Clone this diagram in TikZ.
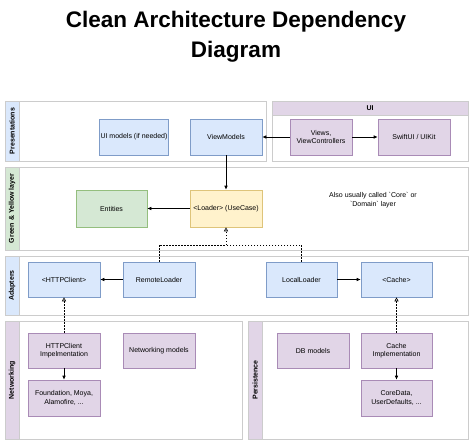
\documentclass[tikz,border=0pt]{standalone}
\usepackage{fontspec}
\setmainfont{Liberation Sans}
\usetikzlibrary{arrows.meta,positioning}

\definecolor{bluefill}{HTML}{DAE8FC}
\definecolor{bluedraw}{HTML}{7F9CC8}
\definecolor{greenfill}{HTML}{D5E8D4}
\definecolor{greendraw}{HTML}{94BE7E}
\definecolor{yellowfill}{HTML}{FFF2CC}
\definecolor{yellowdraw}{HTML}{DEC47A}
\definecolor{purplefill}{HTML}{E1D5E7}
\definecolor{purpledraw}{HTML}{A98BB6}
\definecolor{lanedraw}{HTML}{CCCCCC}

\tikzset{
 box/.style={draw, line width=0.6pt, minimum width=72pt, minimum height=36pt, inner sep=1pt,
  align=center, font=\fontsize{7}{8.5}\selectfont},
 bluebox/.style={box, fill=bluefill, draw=bluedraw},
 greenbox/.style={box, fill=greenfill, draw=greendraw},
 yellowbox/.style={box, fill=yellowfill, draw=yellowdraw},
 purplebox/.style={box, fill=purplefill, draw=purpledraw},
 lane/.style={draw=lanedraw, line width=0.8pt},
 lanetitle/.style={rotate=90, font=\bfseries\fontsize{7}{8.5}\selectfont},
 uses/.style={-{Latex[length=4pt,width=3.5pt]}, line width=0.6pt},
 dep/.style={-{Triangle[open,length=4pt,width=4pt]}, line width=0.6pt, dash pattern=on 1.5pt off 1.5pt},
 depline/.style={line width=0.6pt, dash pattern=on 1.5pt off 1.5pt}
}

\begin{document}
\begin{tikzpicture}[x=1pt,y=-1pt]
 \useasboundingbox (0,0) rectangle (474,445);

 % title
 \node (title) at (236,37) [align=center, font=\bfseries\fontsize{22.5}{30}\selectfont] {Clean Architecture Dependency\\Diagram};

 % lanes
 \draw[lane] (5,101) rectangle (266,161);
 \draw[lane, fill=bluefill] (5,101) rectangle (19,161);
 \node (lpres) at (12,131) [lanetitle] {Presentations};

 \draw[lane] (272,101) rectangle (468,161);
 \draw[lane, fill=purplefill] (272,101) rectangle (468,115);
 \node (lui) at (370,108) [font=\bfseries\fontsize{7}{8.5}\selectfont] {UI};

 \draw[lane] (5,167) rectangle (468,250);
 \draw[lane, fill=greenfill] (5,167) rectangle (19,250);
 \node (ldomain) at (12,208.5) [lanetitle] {Green \& Yellow layer};

 \draw[lane] (5,256) rectangle (468,315);
 \draw[lane, fill=bluefill] (5,256) rectangle (19,315);
 \node (ladapt) at (12,285.5) [lanetitle] {Adapters};

 \draw[lane] (5,321) rectangle (242,439);
 \draw[lane, fill=purplefill] (5,321) rectangle (19,439);
 \node (lnet) at (12,380) [lanetitle] {Networking};

 \draw[lane] (248,321) rectangle (468,439);
 \draw[lane, fill=purplefill] (248,321) rectangle (262,439);
 \node (lpers) at (255,380) [lanetitle] {Persistence};

 % presentation
 \node (uimodels) at (134,137) [bluebox, minimum width=68pt] {UI models (if needed)};
 \node (viewmodels) at (226,137) [bluebox] {ViewModels};
 \node (views) at (321,137) [purplebox, minimum width=62pt] {Views,\\ViewControllers};
 \node (swiftui) at (414,137) [purplebox] {SwiftUI / UIKit};

 % domain
 \node (entities) at (111.5,208.5) [greenbox, minimum width=71pt, minimum height=37pt] {Entities};
 \node (loader) at (226,208.5) [yellowbox, minimum height=37pt] {<Loader> (UseCase)};
 \node (note) at (373,200) [align=center, font=\fontsize{7}{8.5}\selectfont]
  {Also usually called \textasciigrave Core\textasciigrave{} or\\\textasciigrave Domain\textasciigrave{} layer};

 % adapters
 \node (httpclient) at (64,279.5) [bluebox, minimum height=35pt] {<HTTPClient>};
 \node (remote) at (159,279.5) [bluebox, minimum height=35pt] {RemoteLoader};
 \node (local) at (301.5,279.5) [bluebox, minimum width=71pt, minimum height=35pt] {LocalLoader};
 \node (cache) at (396.5,279.5) [bluebox, minimum width=71pt, minimum height=35pt] {<Cache>};

 % networking
 \node (httpimpl) at (64,350.5) [purplebox, minimum height=35pt] {HTTPClient\\Impelmentation};
 \node (netmodels) at (159,350.5) [purplebox, minimum height=35pt] {Networking models};
 \node (foundation) at (64,398) [purplebox] {Foundation, Moya,\\Alamofire, ...};

 % persistence
 \node (dbmodels) at (313,350.5) [purplebox, minimum height=35pt] {DB models};
 \node (cacheimpl) at (396.5,350.5) [purplebox, minimum width=71pt, minimum height=35pt] {Cache\\Implementation};
 \node (coredata) at (396.5,398) [purplebox, minimum width=71pt] {CoreData,\\UserDefaults, ...};

 % connectors
 \coordinate (join) at (226,245);
 \draw[uses] (views) -- (viewmodels);
 \draw[uses] (views) -- (swiftui);
 \draw[uses] (viewmodels) -- (loader);
 \draw[uses] (loader) -- (entities);
 \draw[depline] (remote.north) |- (join);
 \draw[depline] (local.north) |- (join);
 \draw[dep] (join) -- (loader.south);
 \draw[uses] (remote) -- (httpclient);
 \draw[uses] (local) -- (cache);
 \draw[dep] (httpimpl) -- (httpclient);
 \draw[dep] (cacheimpl) -- (cache);
 \draw[uses] (httpimpl) -- (foundation);
 \draw[uses] (cacheimpl) -- (coredata);
\end{tikzpicture}
\end{document}
